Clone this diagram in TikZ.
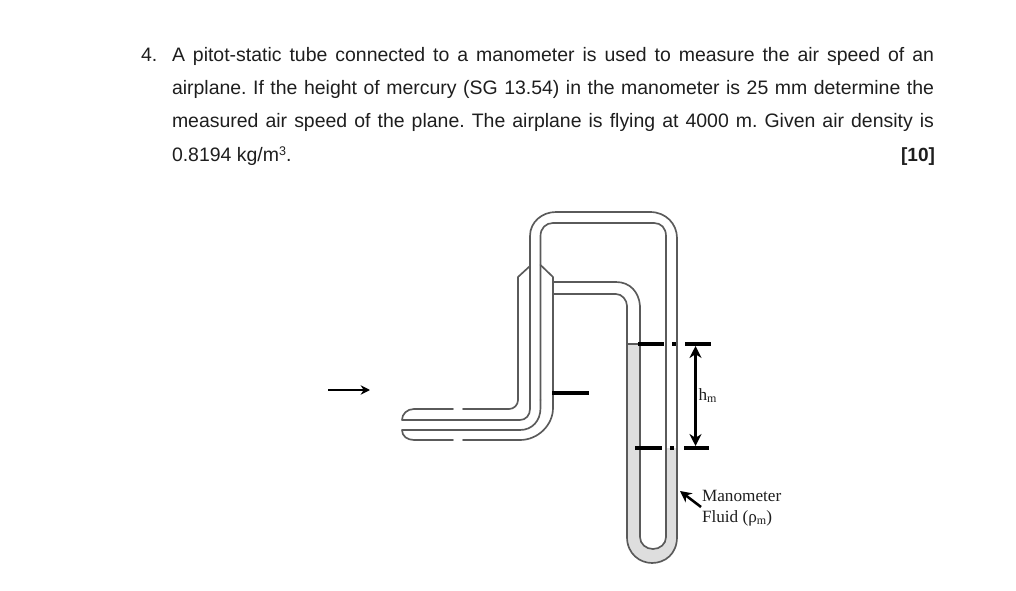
\documentclass[tikz,border=0pt]{standalone}
\usepackage{fontspec}
\setmainfont{Liberation Sans}
\newfontfamily\serifface{Liberation Serif}
\usetikzlibrary{arrows.meta}
\definecolor{tubeline}{HTML}{5A5A5A}
\definecolor{fluid}{HTML}{DEDEDE}
\definecolor{inktext}{HTML}{1E1E1E}
\newcommand{\jline}[1]{\hbox to 571.5pt{\frenchspacing #1}}
\tikzset{
  x=0.75pt,y=-0.75pt,
  bodytext/.style={anchor=base west,inner sep=0pt,outer sep=0pt,text=inktext,font=\fontsize{14.6pt}{16pt}\selectfont},
  labeltext/.style={anchor=base west,inner sep=0pt,outer sep=0pt,text=inktext,font=\fontsize{12.9pt}{14pt}\selectfont\serifface},
  tube/.style={draw=tubeline,line width=1.25pt,line cap=round,line join=round},
  tick/.style={draw=black,line width=2.7pt},
  dimarrow/.style={draw=black,line width=1.6pt,{Stealth[length=9pt,width=9pt]}-{Stealth[length=9pt,width=9pt]}},
  onearrow/.style={draw=black,line width=1.3pt,-{Stealth[length=7pt,width=7pt]}}
}
\begin{document}
\begin{tikzpicture}
\useasboundingbox (0,0) rectangle (1016,591);
% question text
\node[bodytext] (num) at (141,61.5) {4.};
\node[bodytext] (l1) at (172,61.5) {\jline{A pitot-static tube connected to a manometer is used to measure the air speed of an}};
\node[bodytext] (l2) at (172,94.8) {\jline{airplane. If the height of mercury (SG 13.54) in the manometer is 25 mm determine the}};
\node[bodytext] (l3) at (172,128) {\jline{measured air speed of the plane. The airplane is flying at 4000 m. Given air density is}};
\node[bodytext] (l4) at (172,162) {0.8194 kg/m\raisebox{0.62ex}{\fontsize{9.4pt}{10pt}\selectfont 3}.};
\node[bodytext,anchor=base east,font=\fontsize{14.3pt}{16pt}\selectfont\bfseries] (mark) at (935,162) {[10]};
% manometer fluid
\fill[fluid] (627,344) -- (627,537) .. controls (627,554) and (640,563) .. (652,563)
  .. controls (665,563) and (677,554) .. (677,537) -- (677,448) -- (666,448) -- (666,537)
  .. controls (666,544) and (660,549) .. (653,549) .. controls (646,549) and (640,544) .. (640,537)
  -- (640,344) -- cycle;
% static / total tubes
\draw[tube] (530,400) -- (530,236) .. controls (530,222) and (542,212) .. (556,212)
  -- (650,212) .. controls (666,212) and (677,224) .. (677,238) -- (677,537)
  .. controls (677,554) and (665,563) .. (652,563) .. controls (640,563) and (627,554) .. (627,537)
  -- (627,306) .. controls (627,300) and (622,294) .. (616,294) -- (553,294);
\draw[tube] (540.5,400) -- (540.5,236) .. controls (540.5,228) and (546,223) .. (553,223)
  -- (654,223) .. controls (661,223) and (666,228) .. (666,236) -- (666,537)
  .. controls (666,544) and (660,549) .. (653,549) .. controls (646,549) and (640,544) .. (640,537)
  -- (640,306) .. controls (639,292) and (630,282) .. (616,282) -- (553,282);
% collar and outer wall
\draw[tube] (530,266) -- (518,277) -- (518,400) .. controls (518,405) and (514,409) .. (509,409) -- (463,409);
\draw[tube] (453,409) -- (414,409) .. controls (407,409) and (402,414) .. (402,420)
  -- (520,420) .. controls (526,420) and (530,415) .. (530,409) -- (530,400);
\draw[tube] (540.5,265) -- (553,277) -- (553,408) .. controls (553,425) and (538,440) .. (520,440) -- (463,440);
\draw[tube] (453,440) -- (414,440) .. controls (407,440) and (402,436) .. (402,430)
  -- (520,430) .. controls (532,430) and (540.5,421) .. (540.5,408) -- (540.5,400);
\draw[tube] (627,344) -- (638,344);
% ticks
\draw[tick] (552,393) -- (589,393);
\draw[tick] (638,344) -- (664,344);
\draw[tick] (672,344) -- (676,344);
\draw[tick] (685,344) -- (711,344);
\draw[tick] (635,448) -- (662,448);
\draw[tick] (670,448) -- (674,448);
\draw[tick] (684,448) -- (709,448);
% arrows
\coordinate (hmtop) at (695.5,346);
\coordinate (hmbot) at (695.5,446);
\draw[dimarrow] (hmtop) -- (hmbot);
\coordinate (flowa) at (328,390);
\coordinate (flowb) at (370,390);
\draw[onearrow] (flowa) -- (flowb);
\coordinate (mfa) at (701,507);
\coordinate (mfb) at (680,491);
\draw[draw=black,line width=1.9pt,-{Stealth[length=8.5pt,width=8.5pt]}] (mfa) -- (mfb);
% labels
\node[labeltext] (hm) at (698.5,400) {h\raisebox{-0.35ex}{\fontsize{9pt}{10pt}\selectfont m}};
\node[labeltext] (mf1) at (702,501) {Manometer};
\node[labeltext] (mf2) at (702,522) {Fluid (ρ\raisebox{-0.35ex}{\fontsize{9pt}{10pt}\selectfont m})};
\end{tikzpicture}
\end{document}
